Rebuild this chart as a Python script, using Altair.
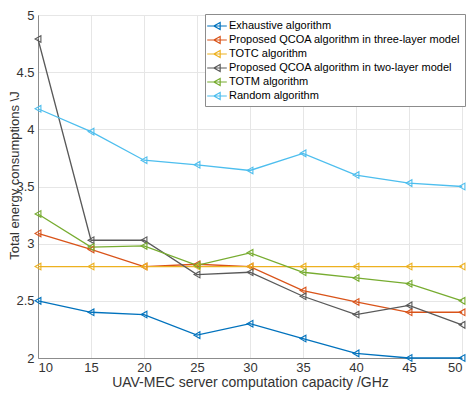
import altair as alt
import pandas as pd

capacity = [10, 15, 20, 25, 30, 35, 40, 45, 50]
series_names = [
    "Exhaustive algorithm",
    "Proposed QCOA algorithm in three-layer model",
    "TOTC algorithm",
    "Proposed QCOA algorithm in two-layer model",
    "TOTM algorithm",
    "Random algorithm",
]
exhaustive = [2.50, 2.40, 2.38, 2.20, 2.30, 2.17, 2.04, 2.00, 2.00]
qcoa_three = [3.09, 2.95, 2.80, 2.82, 2.80, 2.59, 2.49, 2.40, 2.40]
totc = [2.80, 2.80, 2.80, 2.80, 2.80, 2.80, 2.80, 2.80, 2.80]
qcoa_two = [4.79, 3.03, 3.03, 2.73, 2.75, 2.54, 2.38, 2.46, 2.29]
totm = [3.26, 2.97, 2.98, 2.81, 2.92, 2.75, 2.70, 2.65, 2.50]
random_alg = [4.18, 3.98, 3.73, 3.69, 3.64, 3.79, 3.60, 3.53, 3.50]
colors = ["#0072BD", "#D95319", "#EDB120", "#595959", "#77AC30", "#4DBEEE"]
x_ticks = [10, 15, 20, 25, 30, 35, 40, 45, 50]
y_ticks = [2, 2.5, 3, 3.5, 4, 4.5, 5]

all_series = [exhaustive, qcoa_three, totc, qcoa_two, totm, random_alg]
rows = []
for name, vals in zip(series_names, all_series):
    for i, (c, v) in enumerate(zip(capacity, vals)):
        rows.append({"cap": c, "energy": v, "alg": name, "order": i})
df = pd.DataFrame(rows)

FONT = "Liberation Sans"
sym = "M-1.4,0H1.4M0.45,-0.5L-0.45,0L0.45,0.5Z"

x = alt.X("cap:Q", scale=alt.Scale(domain=[10, 50], nice=False),
          axis=alt.Axis(values=x_ticks, title="UAV-MEC server computation capacity /GHz",
                        format="d"))
y = alt.Y("energy:Q", scale=alt.Scale(domain=[2, 5], nice=False),
          axis=alt.Axis(values=y_ticks, title="Total energy consumptions \\J", format="~g",
                        titleX=-24, titleY=160, titleBaseline="middle", titleAlign="center",
                        titleAngle=270, titleFontSize=13))
color = alt.Color("alg:N", scale=alt.Scale(domain=series_names, range=colors),
                  legend=alt.Legend(title=None, orient="none", legendX=167, legendY=-1,
                                    symbolType=sym, symbolSize=196, symbolStrokeWidth=1.2,
                                    symbolFillColor="transparent",
                                    labelFontSize=11, labelFont=FONT, labelColor="#000000",
                                    fillColor="#ffffff", strokeColor="#8c8c8c",
                                    padding=4, rowPadding=0, labelOffset=4,
                                    labelLimit=400))

base = alt.Chart(df)
lines = base.mark_line(strokeWidth=1.3).encode(x=x, y=y, color=color, order="order:Q")
points = base.mark_point(shape="triangle-left", filled=False, size=45, strokeWidth=1.1,
                         opacity=1).encode(x=x, y=y, color=alt.Color("alg:N", legend=None,
                         scale=alt.Scale(domain=series_names, range=colors)))

chart = (lines + points).properties(
    width=424, height=343,
    autosize=alt.AutoSizeParams(type="none"),
    padding={"left": 30, "top": 7, "right": 4, "bottom": 32},
).configure_view(stroke="#8c8c8c", strokeWidth=1).configure_axis(
    gridColor="#e6e6e6", gridOpacity=1, domainColor="#8c8c8c", tickColor="#8c8c8c",
    tickSize=0, labelFont=FONT, titleFont=FONT, labelFontSize=13, titleFontSize=14,
    labelColor="#333333", titleColor="#333333", titleFontWeight="normal",
).configure_axisX(labelPadding=3, titlePadding=1).configure_axisY(labelPadding=4)

chart.save("out.html", embed_options={"renderer": "svg", "actions": False})
